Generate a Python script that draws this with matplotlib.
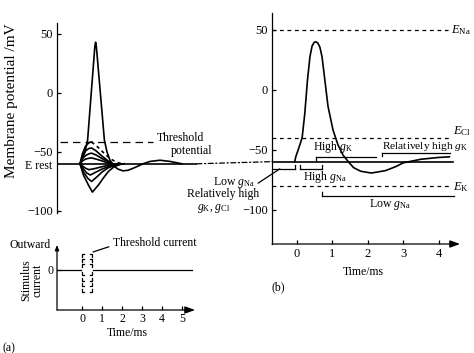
import numpy as np
import matplotlib
matplotlib.use('Agg')
import matplotlib.pyplot as plt
from matplotlib.patches import ConnectionPatch

plt.rcParams['font.family'] = ['Liberation Serif', 'DejaVu Serif']
plt.rcParams['mathtext.fontset'] = 'custom'
plt.rcParams['mathtext.rm'] = 'Liberation Serif'
plt.rcParams['mathtext.it'] = 'Liberation Serif:italic'
plt.rcParams['font.size'] = 8.5

# ---- data ----
e_rest = -60
threshold = -41.5

# (a) action potential
spike_t = [-0.1, 0.03, 0.15, 0.24, 0.28, 0.64, 0.68, 0.72, 1.12, 1.25, 1.4, 1.6, 1.8,
           2.05, 2.3, 2.6, 3.05, 3.4, 3.9, 4.4, 5.0]
spike_v = [-60, -55, -50, -43, -40, 39, 43, 39, -40, -50, -57, -62, -64.5,
           -66, -65.5, -63.5, -60, -58, -57, -58, -60]

# (a) sub-threshold responses
sub_t = [
    [-0.1, 0.07, 0.32, 0.52, 0.82, 1.07, 1.32, 1.6, 1.9],
    [-0.1, 0.07, 0.3, 0.48, 0.75, 1.0, 1.3, 1.6, 1.9],
    [-0.1, 0.07, 0.25, 0.42, 0.7, 1.0, 1.3, 1.6, 1.9],
    [-0.1, 0.07, 0.2, 0.35, 0.65, 1.0, 1.3, 1.6, 1.9],
    [-0.1, 0.03, 0.18, 0.35, 0.48, 0.7, 1.0, 1.3, 1.6, 2.1],
    [-0.1, 0.03, 0.18, 0.35, 0.48, 0.7, 1.0, 1.3, 1.6, 2.1],
    [-0.1, 0.03, 0.18, 0.35, 0.48, 0.7, 1.0, 1.3, 1.6, 2.1],
]
sub_v = [
    [-60, -69.5, -78, -84, -78, -72, -66.5, -62.5, -60.5],
    [-60, -67, -72.5, -75, -71, -67, -63.5, -61.5, -60.5],
    [-60, -64.5, -68, -69.5, -67, -64.5, -62.5, -61, -60.3],
    [-60, -62.5, -64, -65, -64, -62.5, -61.3, -60.3, -60],
    [-60, -53, -49, -47, -46.6, -49, -53.5, -57.5, -60.5, -60],
    [-60, -55.5, -53, -51.5, -51, -52.5, -55.5, -58.5, -60.5, -60],
    [-60, -57.5, -56, -55.3, -55, -56, -57.5, -59.5, -60.5, -60],
]
# response at threshold that fails
thr_rise_t = [-0.1, 0.03, 0.18, 0.35, 0.48]
thr_rise_v = [-60, -51, -45, -42, -41.5]
thr_fall_t = [0.48, 0.8, 1.1, 1.4, 1.7, 2.0]
thr_fall_v = [-41.5, -46, -51, -55.5, -58.5, -60]

# (a) stimulus pulses
pulse_on, pulse_off = 0.0, 0.5
pulse_levels = [3.1, 2.2, 1.2, -1.1, -2.2, -3.2, -4.4]

# (b) action potential
b_t = [-0.06, -0.03, 0.04, 0.15, 0.225, 0.30, 0.37, 0.43, 0.49, 0.535, 0.59, 0.65, 0.71,
       0.79, 0.88, 1.02, 1.16, 1.3, 1.45, 1.6, 1.8, 2.1, 2.5, 2.8, 3.0, 3.5, 4.0, 4.3]
b_v = [-60, -56, -50, -40, -19.6, 8, 27.6, 36.5, 39.5, 40, 39, 35.5, 27.6,
       8, -14, -33.6, -46, -54.4, -60, -65, -68, -69.5, -67.5, -64, -61, -58, -56.5, -56]
b_rest_end = 4.4

# equilibrium potentials
e_names = ['$E_{\\mathrm{Na}}$', '$E_{\\mathrm{Cl}}$', '$E_{\\mathrm{K}}$']
e_values = [50, -40, -80]
e_end = [4.26, 4.33, 4.33]
e_label_v = [50, -34.5, -81]

# conductance brackets: start, end, level, tick side
br_start = [-0.7, 0.1, 0.54, 2.41, 0.71]
br_end = [-0.06, 0.7, 2.24, 4.33, 4.42]
br_level = [-66, -66, -56.3, -52.5, -88.4]
br_ticks = ['right_up', 'both_up', 'left_down', 'left_down', 'left_up']

fig = plt.figure(figsize=(4.74, 3.53), dpi=100)
W, H = 474, 353

def box(x0, y0, x1, y1):
    return [x0 / W, 1 - y1 / H, (x1 - x0) / W, (y1 - y0) / H]

lw = 1.2
thin = 0.9

# ---------------- (a) membrane potential ----------------
ax_a = fig.add_axes(box(57, 23, 197, 213))
ax_a.set_xlim(-1.25, 5.75)
ax_a.set_ylim(-101.7, 59.3)
for s in ['top', 'right', 'bottom']:
    ax_a.spines[s].set_visible(False)
ax_a.spines['left'].set_linewidth(thin)
ax_a.set_xticks([])
ax_a.set_yticks([50, 0, -50, -100])
ax_a.tick_params(axis='y', direction='in', length=3, width=thin, pad=3, labelsize=9)

ax_a.axhline(e_rest, color='k', lw=lw)
ax_a.plot([-1.1, 3.55], [threshold, threshold], color='k', lw=thin, ls=(0, (6, 4)))
ax_a.plot(spike_t, spike_v, color='k', lw=lw)
for t, v in zip(sub_t, sub_v):
    ax_a.plot(t, v, color='k', lw=lw)
ax_a.plot(thr_rise_t, thr_rise_v, color='k', lw=lw)
ax_a.plot(thr_fall_t, thr_fall_v, color='k', lw=lw, ls=(0, (2, 2)))

ax_a.text(3.75, -38, 'Threshold', ha='left', va='center')
ax_a.text(4.45, -49, 'potential', ha='left', va='center')
ax_a.text(-1.5, -61.5, 'E rest', ha='right', va='center')
fig.text(12 / W, 1 - 101 / H, 'Membrane potential /mV', rotation=90,
         ha='center', va='center', fontsize=11)

# ---------------- (a) stimulus current ----------------
ax_s = fig.add_axes(box(57, 245, 195, 310))
ax_s.set_xlim(-1.25, 5.65)
ax_s.set_ylim(-8.1, 4.9)
for s in ['top', 'right', 'bottom', 'left']:
    ax_s.spines[s].set_visible(False)
ax_s.annotate('', xy=(1, 0), xytext=(0, 0), xycoords='axes fraction',
              arrowprops=dict(arrowstyle='-|>,head_length=0.6,head_width=0.22',
                              lw=thin, color='k', mutation_scale=10,
                              shrinkA=0, shrinkB=0))
ax_s.annotate('', xy=(0, 1), xytext=(0, 0), xycoords='axes fraction',
              arrowprops=dict(arrowstyle='-|>,head_length=0.5,head_width=0.2',
                              lw=thin, color='k', mutation_scale=6,
                              shrinkA=0, shrinkB=0))
ax_s.set_xticks(range(6))
ax_s.set_yticks([0])
ax_s.tick_params(direction='in', length=3, width=thin, pad=2.5, labelsize=8.5)

ax_s.plot([-1.25, pulse_on - 0.05], [0, 0], color='k', lw=thin)
ax_s.plot([pulse_off + 0.05, 5.5], [0, 0], color='k', lw=thin)
for lev in pulse_levels:
    sg = np.sign(lev)
    ax_s.plot([pulse_on, pulse_on, pulse_on + 0.12],
              [lev - 0.6 * sg, lev, lev], color='k', lw=thin)
    ax_s.plot([pulse_off - 0.12, pulse_off, pulse_off],
              [lev, lev, lev - 0.6 * sg], color='k', lw=thin)

ax_s.annotate('Threshold current', xy=(0.55, 3.5), xytext=(1.55, 5.3),
              ha='left', va='center', annotation_clip=False,
              arrowprops=dict(arrowstyle='-', lw=thin, color='k',
                              shrinkA=1, shrinkB=0, relpos=(0, 0.3)))
fig.text(30 / W, 1 - 245 / H, 'Outward', ha='center', va='center')
fig.text(32 / W, 1 - 280 / H, 'Stimulus\ncurrent', rotation=90, ha='center',
         va='center', multialignment='center', linespacing=0.95)
fig.text(127 / W, 1 - 333 / H, 'Time/ms', ha='center', va='center')
fig.text(9 / W, 1 - 348 / H, '(a)', ha='center', va='center')

# ---------------- (b) ----------------
ax_b = fig.add_axes(box(272, 13, 460, 244))
ax_b.set_xlim(-0.7, 4.6)
ax_b.set_ylim(-128.7, 64)
for s in ['top', 'right', 'bottom']:
    ax_b.spines[s].set_visible(False)
ax_b.spines['left'].set_linewidth(thin)
ax_b.annotate('', xy=(1, 0), xytext=(0, 0), xycoords='axes fraction',
              arrowprops=dict(arrowstyle='-|>,head_length=0.6,head_width=0.22',
                              lw=thin, color='k', mutation_scale=10,
                              shrinkA=0, shrinkB=0))
ax_b.set_xticks(range(5))
ax_b.set_yticks([50, 0, -50, -100])
ax_b.tick_params(direction='in', length=3, width=thin, pad=3, labelsize=9)

ax_b.plot([-0.7, b_rest_end], [e_rest, e_rest], color='k', lw=lw)
ax_b.plot(b_t, b_v, color='k', lw=lw)
for name, val, end, lv in zip(e_names, e_values, e_end, e_label_v):
    ax_b.plot([-0.7, end], [val, val], color='k', lw=thin, ls=(0, (3, 3)))
    ax_b.text(end + 0.08, lv, name, ha='left', va='center', fontsize=9)

tick_len = 2.8
for t0, t1, lev, kind in zip(br_start, br_end, br_level, br_ticks):
    ax_b.plot([t0, t1], [lev, lev], color='k', lw=thin)
    d = tick_len if kind.endswith('up') else -tick_len
    if kind.startswith('left') or kind.startswith('both'):
        ax_b.plot([t0, t0], [lev, lev + d], color='k', lw=thin)
    if kind.startswith('right') or kind.startswith('both'):
        ax_b.plot([t1, t1], [lev, lev + d], color='k', lw=thin)

ax_b.text(0.45, -47.5, 'High $g_{\\mathrm{K}}$', ha='left', va='center')
ax_b.text(2.39, -47.5, 'Relatively high $g_{\\mathrm{K}}$', ha='left', va='center',
          fontsize=8.2)
ax_b.text(0.17, -72.8, 'High $g_{\\mathrm{Na}}$', ha='left', va='center')
ax_b.text(2.62, -95.6, 'Low $g_{\\mathrm{Na}}$', ha='center', va='center')
ax_b.annotate('Low $g_{\\mathrm{Na}}$', xy=(-0.48, -66), xytext=(-1.17, -77),
              ha='right', va='center', annotation_clip=False,
              arrowprops=dict(arrowstyle='-', lw=thin, color='k',
                              shrinkA=0, shrinkB=0, relpos=(1, 0.3)))
ax_b.text(-1.07, -87, 'Relatively high', ha='right', va='center')
ax_b.text(-2.82, -99.5, '$g_{\\mathrm{K}}$, $g_{\\mathrm{Cl}}$', ha='left', va='center')

fig.text(363 / W, 1 - 272 / H, 'Time/ms', ha='center', va='center')
fig.text(278 / W, 1 - 287 / H, '(b)', ha='center', va='center')

# dash-dot continuation of the resting level between panels
con = ConnectionPatch(xyA=(5.75, e_rest), coordsA=ax_a.transData,
                      xyB=(-0.7, e_rest), coordsB=ax_b.transData,
                      color='k', lw=thin, linestyle=(0, (4, 2, 1, 2)))
fig.add_artist(con)

fig.savefig('out.png', dpi=100)
